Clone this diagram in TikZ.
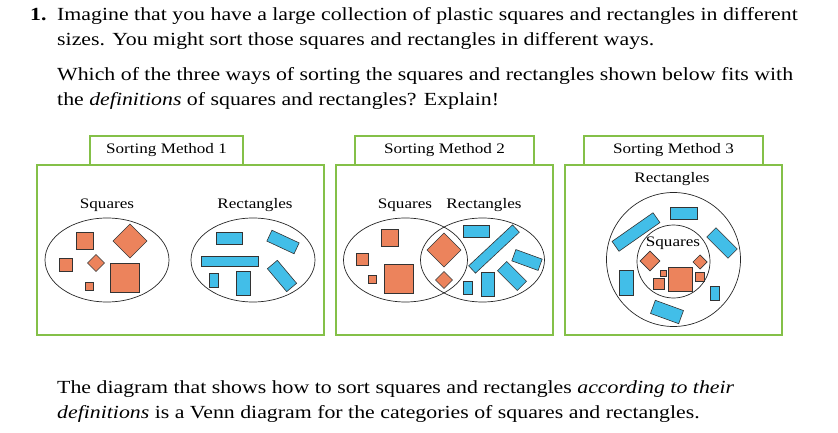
\documentclass[tikz,border=0pt]{standalone}
\usepackage{fontspec}
\setmainfont{Liberation Serif}[FakeStretch=1.18]
\usetikzlibrary{positioning,shapes.geometric}
\definecolor{boxgreen}{RGB}{132,192,72}
\definecolor{sqorange}{RGB}{236,131,92}
\definecolor{recblue}{RGB}{66,190,232}
\tikzset{
  line/.style={anchor=base west,inner sep=0pt,font=\fontsize{18.5}{22}\selectfont},
  method/.style={draw=boxgreen,line width=1.6pt,inner sep=0pt},
  title/.style={font=\fontsize{14.5}{17}\selectfont,inner sep=1pt},
  sq/.style={draw=black!80,fill=sqorange,inner sep=0pt,line width=0.6pt},
  rec/.style={draw=black!80,fill=recblue,inner sep=0pt,line width=0.6pt},
  set/.style={draw=black!85,line width=0.7pt}
}
% square: name, x, y, side, angle
\newcommand\sqr[5]{\node[sq,minimum width=#4,minimum height=#4,rotate=#5] (#1) at (#2,#3) {};}
% rectangle: name, x, y, length, width, angle
\newcommand\rect[6]{\node[rec,minimum width=#4,minimum height=#5,rotate=#6] (#1) at (#2,#3) {};}
\begin{document}
\begin{tikzpicture}[x=1pt,y=-1pt]
\useasboundingbox (0,0) rectangle (838,433);
% question text
\node[line,font=\fontsize{18.5}{22}\selectfont\bfseries] (num) at (30,21) {1.};
\node[line] (q1) at (57,21) {Imagine that you have a large collection of plastic squares and rectangles in different};
\node[line] (q2) at (57,46) {sizes. You might sort those squares and rectangles in different ways.};
\node[line] (q3) at (57,81) {Which of the three ways of sorting the squares and rectangles shown below fits with};
\node[line] (q4) at (57,106) {the \emph{definitions} of squares and rectangles? Explain!};
\node[line] (ans1) at (57,393) {The diagram that shows how to sort squares and rectangles \emph{according to their}};
\node[line] (ans2) at (57,418) {\emph{definitions} is a Venn diagram for the categories of squares and rectangles.};

% Sorting Method 1
\node[method,minimum width=287,minimum height=170] (m1) at (180.5,250) {};
\node[method,title,minimum width=153,minimum height=29] (t1) at (166.5,150.5) {Sorting Method 1};
\node[set,ellipse,minimum width=124,minimum height=84] (e1) at (107,260) {};
\node[set,ellipse,minimum width=124,minimum height=84] (e2) at (253,260) {};
\node[title] (l1) at (107,205) {Squares};
\node[title] (l2) at (255,205) {Rectangles};
\sqr{a1}{84.5}{240.5}{17}{0}
\sqr{a2}{130}{241}{24}{45}
\sqr{a3}{66}{265}{13}{0}
\sqr{a4}{96}{263}{12}{45}
\sqr{a5}{89}{286}{8}{0}
\sqr{a6}{124.5}{277.5}{29}{0}
\rect{b1}{229}{238}{26}{12}{0}
\rect{b2}{283}{242}{30}{12}{-25}
\rect{b3}{229.5}{261}{57}{10}{0}
\rect{b4}{282}{276}{30}{13}{-50}
\rect{b5}{214}{280}{9}{14}{0}
\rect{b6}{243}{283}{14}{24}{0}

% Sorting Method 2
\node[method,minimum width=217,minimum height=170] (m2) at (444.5,250) {};
\node[method,title,minimum width=179,minimum height=29] (t2) at (444.5,150.5) {Sorting Method 2};
\node[set,ellipse,minimum width=124,minimum height=84] (e3) at (405.5,260) {};
\node[set,ellipse,minimum width=124,minimum height=84] (e4) at (482.5,260) {};
\node[title] (l3) at (405,205) {Squares};
\node[title] (l4) at (484,205) {Rectangles};
\sqr{c1}{389.5}{238}{17}{0}
\sqr{c2}{362}{259}{12}{0}
\sqr{c3}{372.5}{279}{8}{0}
\sqr{c4}{398.5}{278.5}{29}{0}
\sqr{c5}{444}{250}{24}{45}
\sqr{c6}{444}{280}{12}{45}
\rect{d1}{476}{231}{26}{12}{0}
\rect{d2}{494}{249}{60}{10}{43}
\rect{d3}{527}{260}{28}{12}{-20}
\rect{d4}{512}{276}{28}{13}{-45}
\rect{d5}{468}{288}{9}{13}{0}
\rect{d6}{488}{284.5}{13}{24}{0}

% Sorting Method 3
\node[method,minimum width=217,minimum height=170] (m3) at (673.5,250) {};
\node[method,title,minimum width=179,minimum height=29] (t3) at (673.5,150.5) {Sorting Method 3};
\node[set,circle,minimum size=134] (o1) at (673.5,259.5) {};
\node[set,circle,minimum size=73] (o2) at (673.5,261.5) {};
\node[title] (l5) at (672,179) {Rectangles};
\node[title] (l6) at (673,243) {Squares};
\sqr{g1}{650}{261}{14}{45}
\sqr{g2}{700}{262}{10}{45}
\sqr{g3}{663}{273}{6}{0}
\sqr{g4}{658.5}{284}{11}{0}
\sqr{g5}{680}{279}{24}{0}
\sqr{g6}{699.5}{276.5}{9}{0}
\rect{h1}{636}{232}{50}{12}{35}
\rect{h2}{683.5}{213}{27}{12}{0}
\rect{h3}{722}{243}{30}{13}{-45}
\rect{h4}{626}{282.5}{14}{25}{0}
\rect{h5}{714.5}{293}{9}{14}{0}
\rect{h6}{667}{312}{30}{14}{-20}
\end{tikzpicture}
\end{document}
